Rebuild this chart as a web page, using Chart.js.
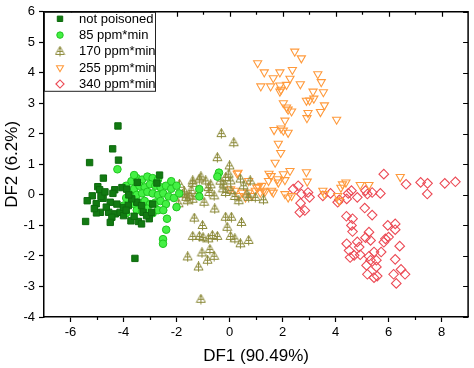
<!DOCTYPE html>
<html>
<head>
<meta charset="utf-8">
<script src="https://cdn.jsdelivr.net/npm/chart.js@4/dist/chart.umd.min.js"></script>
<style>
html, body { margin: 0; padding: 0; background: #fff; }
</style>
</head>
<body>
<canvas id="chart" width="474" height="368"></canvas>
<script>
const FONT = '"Liberation Sans", Arial, sans-serif';

const xTicks = [-6, -4, -2, 0, 2, 4, 6, 8];
const xMinorTicks = [-5, -3, -1, 1, 3, 5, 7];
const yTicks = [-4, -3, -2, -1, 0, 1, 2, 3, 4, 5, 6];

const seriesLabels = ['not poisoned', '85 ppm*min', '170 ppm*min', '255 ppm*min', '340 ppm*min'];

// [DF1, DF2]
const notPoisoned = [
    [-4.21, 2.26], [-4.41, 1.51], [-5.28, 1.06], [-4.19, 1.14], [-4.76, 0.55], [-2.64, 0.65], [-2.74, 0.39],
    [-4.97, 0.27], [-4.9, 0.17], [-4.33, 0.17], [-4.06, 0.24], [-3.88, 0.19], [-3.48, 0.41], [-5.18, -0.03],
    [-5.37, -0.19], [-4.77, -0.11], [-5.03, -0.29], [-4.5, -0.24], [-4.87, -0.57], [-5.02, -0.59], [-4.56, -0.57],
    [-4.31, -0.62], [-4.13, -0.57], [-4.0, -0.41], [-3.82, -0.35], [-4.0, -0.68], [-4.44, -0.73], [-4.5, -0.9],
    [-5.43, -0.87], [-3.72, -0.85], [-3.44, -0.87], [-3.32, -0.95], [-3.03, -0.78], [-3.57, -2.08], [-3.5, -0.24],
    [-3.32, -0.35], [-3.69, -0.13], [-3.26, -0.57], [-3.13, -0.68], [-2.94, -0.57], [-4.85, -0.05], [-4.65, -0.4],
    [-4.25, -0.3], [-3.9, -0.5], [-4.7, 0.1], [-3.6, -0.7], [-2.9, -0.3], [-4.4, 0.05], [-3.8, 0.0], [-5.1, -0.45]
];
const ppm85 = [
    [-4.23, 0.84], [-0.4, 0.73], [-0.46, 0.6], [-1.14, 0.19], [-1.14, -0.05], [-2.36, -0.78], [-2.39, -1.14],
    [-2.51, -1.45], [-2.51, -1.6], [-3.9, 0.3], [-3.7, 0.45], [-3.5, 0.55], [-3.3, 0.5], [-3.1, 0.6], [-2.9, 0.55],
    [-2.7, 0.5], [-3.8, 0.1], [-3.6, 0.2], [-3.4, 0.3], [-3.2, 0.25], [-3.0, 0.35], [-2.8, 0.3], [-2.6, 0.25],
    [-2.4, 0.3], [-2.2, 0.2], [-3.9, -0.1], [-3.7, -0.05], [-3.5, 0.0], [-3.3, 0.05], [-3.1, 0.1], [-2.9, 0.05],
    [-2.7, 0.0], [-2.5, 0.05], [-2.3, -0.05], [-2.1, -0.1], [-3.6, -0.3], [-3.4, -0.25], [-3.2, -0.2], [-3.0, -0.3],
    [-2.8, -0.25], [-2.6, -0.2], [-2.4, -0.3], [-3.5, -0.5], [-3.3, -0.55], [-3.1, -0.45], [-2.9, -0.6], [-2.7, -0.5],
    [-4.0, -0.35], [-3.9, -0.6], [-2.5, -0.5], [-2.0, -0.4], [-1.9, 0.05], [-2.2, 0.45], [-3.6, 0.65], [-2.0, 0.3]
];
const ppm170 = [
    [-0.31, 2.01], [0.16, 1.71], [-0.46, 1.22], [0.0, 0.95], [-1.08, 0.59], [-1.39, 0.46], [-1.14, 0.52], [-0.9, 0.46],
    [-1.39, 0.38], [-1.89, 0.35], [-0.71, 0.33], [-0.15, 0.57], [-0.03, 0.68], [-0.22, 0.35], [0.04, 0.46], [0.41, 0.52],
    [0.78, 0.46], [-1.77, 0.03], [-1.64, -0.08], [-1.52, -0.03], [-1.39, -0.14], [-1.58, -0.19], [-1.92, -0.29],
    [-1.7, 0.1], [-1.45, 0.15], [-1.2, 0.05], [-0.96, -0.24], [-0.58, -0.03], [-0.77, 0.08], [-0.8, 0.24], [-0.15, 0.08],
    [0.05, 0.15], [0.53, 0.3], [0.35, -0.19], [0.72, -0.08], [0.66, 0.03], [0.97, -0.08], [1.28, -0.16], [0.2, -0.05],
    [-0.56, -0.46], [-1.33, -0.76], [-1.02, -1.0], [-0.15, -0.73], [0.07, -0.73], [0.45, -0.9], [-0.09, -1.06],
    [-1.39, -1.36], [-1.14, -1.36], [-0.8, -1.44], [-0.65, -1.33], [-0.46, -1.36], [0.04, -1.36], [0.2, -1.44],
    [0.41, -1.6], [0.72, -1.49], [-1.58, -2.03], [-1.04, -1.9], [-0.74, -1.79], [-0.58, -2.01], [-0.83, -2.14],
    [-1.17, -2.36], [-1.08, -3.42], [-1.0, -1.4], [-0.35, 0.45], [-0.25, 0.2]
];
const ppm255 = [
    [2.46, 4.7], [2.71, 4.48], [1.06, 4.32], [1.31, 4.02], [1.65, 3.83], [1.9, 4.02], [2.37, 4.1], [1.18, 3.56],
    [1.55, 3.56], [1.9, 3.59], [1.94, 3.45], [1.9, 3.39], [2.15, 3.61], [2.28, 3.81], [2.67, 3.63], [3.33, 3.96],
    [3.46, 3.7], [3.54, 3.37], [3.15, 3.39], [3.18, 3.16], [3.02, 3.1], [2.9, 3.09], [2.03, 3.01], [2.15, 2.87],
    [2.34, 2.74], [2.21, 2.8], [3.58, 2.94], [3.43, 2.72], [2.96, 2.69], [2.92, 2.52], [4.04, 2.47], [2.09, 2.44],
    [1.68, 2.13], [1.94, 2.18], [2.03, 2.11], [2.21, 2.04], [1.84, 1.68], [1.93, 1.38], [1.72, 1.06], [2.28, 0.79],
    [2.9, 0.75], [1.49, 0.7], [2.93, 0.44],
    [0.29, 0.7], [0.32, 0.73], [0.72, 0.46], [0.04, 0.19], [0.22, 0.14], [0.47, 0.08], [0.72, 0.08], [0.97, 0.14],
    [0.35, -0.03], [0.6, -0.08], [0.84, -0.03], [1.03, 0.24], [1.22, 0.3], [1.47, 0.46], [1.84, 0.41], [2.09, 0.49],
    [2.03, 0.68], [1.81, 0.52], [1.57, 0.62], [1.16, 0.08], [1.34, 0.11], [1.59, 0.14], [2.09, 0.03], [2.34, -0.03],
    [1.09, 0.27], [1.28, 0.14], [1.65, 0.08], [2.21, -0.08], [3.52, 0.14], [3.58, 0.03], [4.08, -0.03], [4.14, -0.19],
    [4.26, 0.35], [4.39, 0.41], [4.2, 0.24], [4.93, 0.33], [5.26, 0.33], [6.44, 0.59]
];
const ppm340 = [
    [5.82, 0.68], [6.66, 0.35], [7.21, 0.41], [7.47, 0.38], [7.46, 0.03], [8.12, 0.38], [8.52, 0.43], [2.4, 0.19],
    [2.59, 0.3], [2.71, 0.03], [2.96, 0.08], [3.02, -0.08], [2.68, -0.27], [2.65, -0.57], [2.84, -0.51], [3.52, -0.03],
    [3.81, 0.05], [4.08, -0.24], [4.14, -0.16], [4.42, -0.13], [4.48, 0.05], [4.6, 0.14], [4.82, -0.08], [5.13, 0.14],
    [5.38, 0.08], [5.2, 0.03], [5.69, 0.05], [5.1, -0.43], [5.38, -0.66], [4.41, -0.7], [4.64, -0.78], [4.64, -1.2],
    [4.6, -1.0], [5.97, -1.0], [6.25, -0.95], [6.25, -1.14], [5.26, -1.22], [5.13, -1.4], [5.32, -1.49], [5.88, -1.44],
    [6.0, -1.38], [5.82, -1.55], [4.42, -1.6], [4.51, -1.82], [4.82, -1.54], [4.89, -1.71], [4.55, -2.05], [4.7, -1.98],
    [4.93, -1.96], [5.26, -2.01], [5.45, -1.87], [5.72, -1.87], [5.54, -2.14], [5.32, -2.14], [6.42, -1.68],
    [6.25, -2.11], [6.47, -2.44], [6.62, -2.6], [5.17, -2.31], [5.2, -2.6], [5.54, -2.36], [5.45, -2.71],
    [5.57, -2.66], [6.19, -2.6], [6.29, -2.9]
];

function toPoints(list) {
    return list.map(p => ({ x: p[0], y: p[1] }));
}

// triangle with a stem, like the original 170 ppm*min symbol
function makeStemTriangle(color) {
    const c = document.createElement('canvas');
    c.width = 11;
    c.height = 11;
    const g = c.getContext('2d');
    g.strokeStyle = color;
    g.lineWidth = 1;
    g.beginPath();
    g.moveTo(5.5, 0.5);
    g.lineTo(10, 8.5);
    g.lineTo(1, 8.5);
    g.closePath();
    g.moveTo(5.5, 0.5);
    g.lineTo(5.5, 10.5);
    g.moveTo(3, 5.5);
    g.lineTo(8, 5.5);
    g.stroke();
    return c;
}
const stemTriangle = makeStemTriangle('#8c8a3a');

// frame, minor ticks and inward ticks on the top / right edges, plus the boxed legend
const framePlugin = {
    id: 'frame',
    afterDraw(chart) {
        const ctx = chart.ctx;
        const a = chart.chartArea;
        const xs = chart.scales.x;
        const ys = chart.scales.y;
        ctx.save();
        ctx.strokeStyle = '#000';
        ctx.lineWidth = 1.5;
        ctx.beginPath();
        ctx.moveTo(a.left, a.top);
        ctx.lineTo(a.right, a.top);
        ctx.lineTo(a.right, a.bottom);
        ctx.stroke();

        ctx.lineWidth = 1.2;
        ctx.beginPath();
        for (const v of xMinorTicks) {
            const px = Math.round(xs.getPixelForValue(v)) + 0.5;
            ctx.moveTo(px, a.bottom);
            ctx.lineTo(px, a.bottom + 3);
            ctx.moveTo(px, a.top);
            ctx.lineTo(px, a.top + 3);
        }
        for (const v of xTicks) {
            const px = Math.round(xs.getPixelForValue(v)) + 0.5;
            ctx.moveTo(px, a.top);
            ctx.lineTo(px, a.top + 5);
        }
        for (const v of yTicks) {
            const py = Math.round(ys.getPixelForValue(v)) + 0.5;
            ctx.moveTo(a.right, py);
            ctx.lineTo(a.right - 5, py);
        }
        ctx.stroke();

        // legend box
        const lx = a.left, ly = a.top;
        const lw = 111, lh = 79;
        ctx.fillStyle = '#fff';
        ctx.fillRect(lx + 1, ly + 1, lw - 1, lh - 1);
        ctx.strokeStyle = '#222';
        ctx.lineWidth = 1;
        ctx.strokeRect(lx + 0.5, ly + 0.5, lw, lh);
        ctx.font = '13px ' + FONT;
        ctx.textBaseline = 'middle';
        ctx.textAlign = 'left';
        chart.data.datasets.forEach((ds, i) => {
            const y = ly + 7 + i * 16.3;
            ctx.fillStyle = ds.backgroundColor;
            ctx.strokeStyle = ds.borderColor;
            ctx.lineWidth = ds.borderWidth;
            Chart.helpers.drawPoint(ctx, {
                pointStyle: ds.pointStyle,
                rotation: ds.pointRotation || 0,
                radius: ds.pointRadius * 0.85,
                borderWidth: ds.borderWidth
            }, lx + 16, y);
            ctx.fillStyle = '#000';
            ctx.fillText(ds.label, lx + 35, y + 0.5);
        });
        ctx.restore();
    }
};

const ctx = document.getElementById('chart').getContext('2d');

new Chart(ctx, {
    type: 'scatter',
    data: {
        datasets: [{
            label: seriesLabels[0],
            data: toPoints(notPoisoned),
            pointStyle: 'rect',
            pointRadius: 4.5,
            backgroundColor: '#127a12',
            borderColor: '#0d6a0d',
            borderWidth: 1
        }, {
            label: seriesLabels[1],
            data: toPoints(ppm85),
            pointStyle: 'circle',
            pointRadius: 3.8,
            backgroundColor: '#44f044',
            borderColor: '#1fc41f',
            borderWidth: 1
        }, {
            label: seriesLabels[2],
            data: toPoints(ppm170),
            pointStyle: stemTriangle,
            pointRadius: 4.5,
            backgroundColor: 'rgba(0,0,0,0)',
            borderColor: '#8c8a3a',
            borderWidth: 1
        }, {
            label: seriesLabels[3],
            data: toPoints(ppm255),
            pointStyle: 'triangle',
            pointRotation: 180,
            pointRadius: 4.7,
            backgroundColor: 'rgba(0,0,0,0)',
            borderColor: '#ff9a3c',
            borderWidth: 1.1
        }, {
            label: seriesLabels[4],
            data: toPoints(ppm340),
            pointStyle: 'rectRot',
            pointRadius: 4.8,
            backgroundColor: 'rgba(0,0,0,0)',
            borderColor: '#ec4a55',
            borderWidth: 1.1
        }]
    },
    options: {
        responsive: false,
        animation: false,
        layout: { padding: { top: 11, right: 2, left: 0, bottom: 0 } },
        plugins: {
            legend: { display: false },
            tooltip: { enabled: false }
        },
        scales: {
            x: {
                type: 'linear',
                min: -7,
                max: 9,
                afterBuildTicks: axis => { axis.ticks = xTicks.map(v => ({ value: v })); },
                afterFit: axis => { axis.height = 51; },
                ticks: { color: '#000', font: { size: 13, family: FONT }, padding: 3, maxRotation: 0 },
                grid: { drawOnChartArea: false, tickLength: 5, tickColor: '#000', tickWidth: 1.2 },
                border: { color: '#000', width: 1.5 },
                title: { display: true, text: 'DF1 (90.49%)', color: '#000', font: { size: 17, family: FONT }, padding: { top: 0, bottom: 1 } }
            },
            y: {
                type: 'linear',
                min: -4,
                max: 6,
                afterBuildTicks: axis => { axis.ticks = yTicks.map(v => ({ value: v })); },
                afterFit: axis => { axis.width = 44; },
                ticks: { color: '#000', font: { size: 13, family: FONT }, padding: 4 },
                grid: { drawOnChartArea: false, tickLength: 5, tickColor: '#000', tickWidth: 1.2 },
                border: { color: '#000', width: 1.5 },
                title: { display: true, text: 'DF2 (6.2%)', color: '#000', font: { size: 17, family: FONT }, padding: { top: 2, bottom: 0 } }
            }
        }
    },
    plugins: [framePlugin]
});
</script>
</body>
</html>
